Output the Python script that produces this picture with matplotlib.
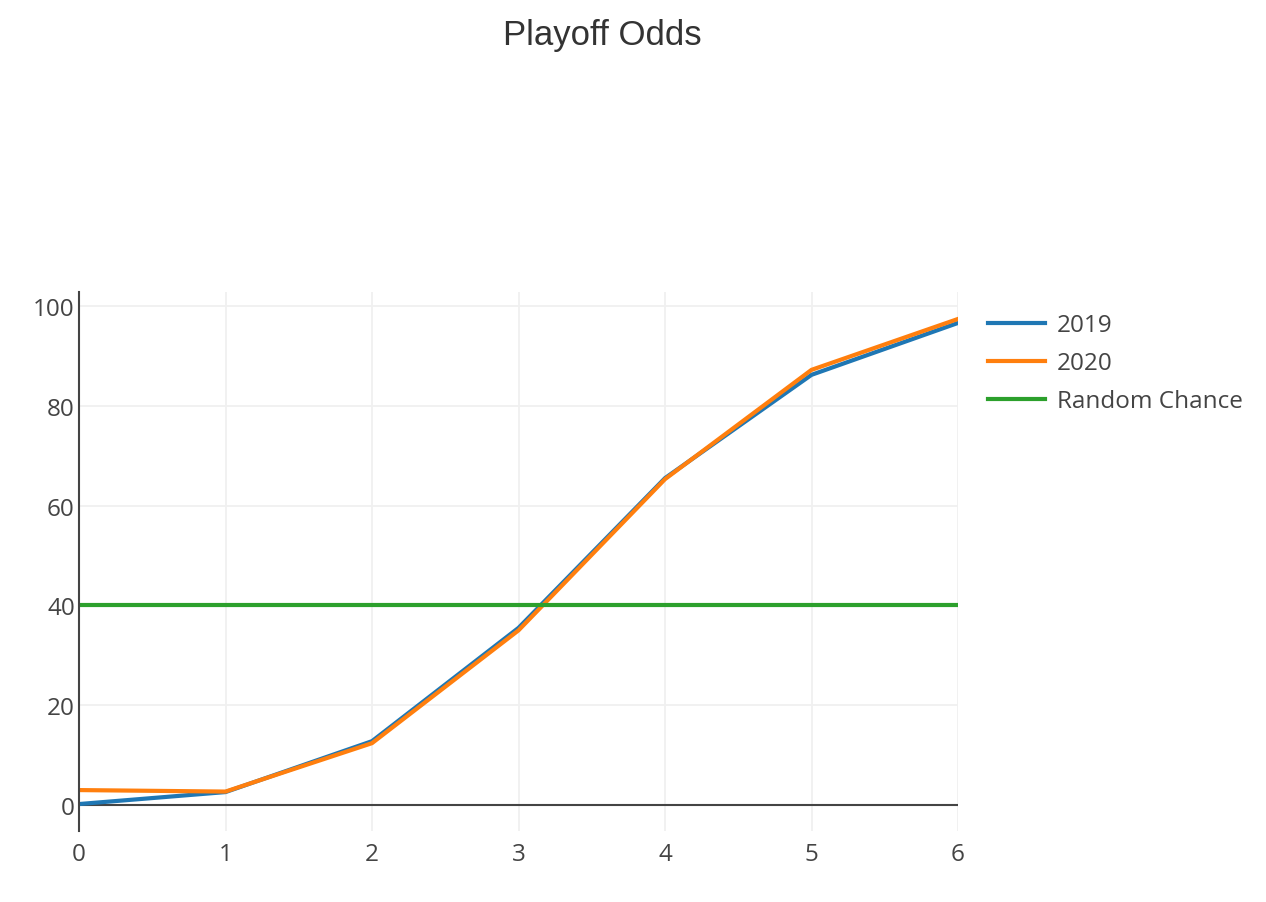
import matplotlib
matplotlib.use("Agg")
import matplotlib.pyplot as plt

weeks = [0, 1, 2, 3, 4, 5, 6]
odds_2019 = [0.2, 2.6, 12.8, 35.5, 65.5, 86.2, 96.6]
odds_2020 = [3.0, 2.7, 12.4, 35.0, 65.3, 87.2, 97.4]
random_chance = [40, 40, 40, 40, 40, 40, 40]

plt.rcParams['font.family'] = ['Open Sans', 'DejaVu Sans']

fig = plt.figure(figsize=(12.66, 9.03), dpi=100)
ax = fig.add_axes([79 / 1266, 1 - 832 / 903, (958 - 79) / 1266, (832 - 293) / 903])

ax.plot(weeks, odds_2019, color='#1f77b4', lw=3, label='2019', solid_joinstyle='miter')
ax.plot(weeks, odds_2020, color='#ff7f0e', lw=3, label='2020', solid_joinstyle='miter')
ax.plot(weeks, random_chance, color='#2ca02c', lw=3, label='Random Chance')

ax.set_xlim(0, 6)
ax.set_ylim(-5.2, 102.8)
ax.set_xticks(weeks)
ax.set_yticks([0, 20, 40, 60, 80, 100])
ax.grid(True, color='#f0f0f0', lw=1.3)
ax.set_axisbelow(True)
ax.axhline(0, color='#444444', lw=1.5, zorder=1.5)

for s in ['top', 'right', 'bottom']:
    ax.spines[s].set_visible(False)
ax.spines['left'].set_color('#444444')
ax.spines['left'].set_linewidth(1.5)
ax.tick_params(length=0, labelsize=17.5, colors='#444444')
ax.tick_params(axis='y', pad=3)
ax.tick_params(axis='x', pad=8)

fig.text(602 / 1266, 1 - 35 / 903, 'Playoff Odds', ha='center', va='center',
         fontsize=25, color='#333333', family=['Liberation Sans', 'DejaVu Sans'])

ax.legend(loc='upper left', bbox_to_anchor=(1.034, 0.961), frameon=False,
          borderaxespad=0, borderpad=0,
          fontsize=17.5, handlelength=2.35, handletextpad=0.5, labelspacing=0.58,
          labelcolor='#444444')

fig.savefig('out.png', dpi=100, facecolor='white')
